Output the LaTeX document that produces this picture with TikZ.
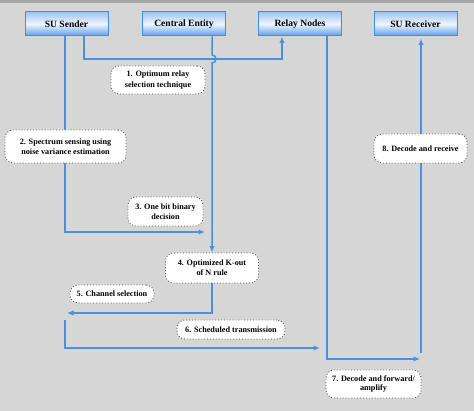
\documentclass[tikz,border=0pt]{standalone}
\usepackage{fontspec}
\setmainfont{Liberation Serif}
\usetikzlibrary{arrows.meta,calc}
\pgfdeclarelayer{bg}
\pgfdeclarelayer{lines}
\pgfsetlayers{bg,lines,main}
\definecolor{bgc}{RGB}{214,214,214}
\definecolor{topstrip}{RGB}{165,165,165}
\definecolor{linec}{RGB}{74,144,226}
\definecolor{boxborder}{RGB}{61,142,235}
\definecolor{boxtop}{RGB}{160,196,242}
\definecolor{boxmid}{RGB}{238,245,253}
\definecolor{boxbot}{RGB}{92,156,234}
\begin{document}
\begin{tikzpicture}[x=1pt,y=-1pt,
  entity/.style={draw=boxborder,line width=1pt,top color=boxtop,bottom color=boxbot,middle color=boxmid,
    minimum width=83pt,minimum height=24pt,inner sep=0pt,font=\fontsize{9.6}{11}\selectfont\bfseries},
  note/.style={draw=black!65,dotted,line width=0.9pt,fill=white,rounded corners=8pt,align=center,
    inner sep=0pt,font=\fontsize{8.2}{9.6}\selectfont\bfseries},
  flow/.style={draw=linec,line width=1.5pt},
  arr/.style={flow,-{Latex[length=6.5pt,width=5.5pt]}}]
\begin{pgfonlayer}{bg}
  \fill[bgc] (0,0) rectangle (474,411);
  \fill[topstrip] (0,0) rectangle (474,3);
\end{pgfonlayer}
\useasboundingbox (0,0) rectangle (474,411);

% entities
\node[entity] (sender) at (66.5,24) {SU Sender};
\node[entity] (central) at (184,24) {Central Entity};
\node[entity] (relay) at (300,24) {Relay Nodes};
\node[entity] (receiver) at (415.5,24) {SU Receiver};

% notes
\node[note,minimum width=94pt,minimum height=28pt] (n1) at (158,80) {1. Optimum relay\\[1.5pt]selection technique};
\node[note,minimum width=121pt,minimum height=33pt] (n2) at (65.5,146.5) {2. Spectrum sensing using\\noise variance estimation};
\node[note,minimum width=75pt,minimum height=29pt] (n3) at (165.5,211.5) {3. One bit binary\\decision};
\node[note,minimum width=93pt,minimum height=30pt] (n4) at (212,268) {4. Optimized K-out\\of N rule};
\node[note,minimum width=84pt,minimum height=18pt] (n5) at (112,294) {5. Channel selection};
\node[note,minimum width=108pt,minimum height=19pt] (n6) at (231,329.5) {6. Scheduled transmission};
\node[note,minimum width=95pt,minimum height=28pt] (n7) at (373.5,384) {7. Decode and forward/\\amplify};
\node[note,minimum width=93pt,minimum height=29pt] (n8) at (420.5,148.5) {8. Decode and receive};

% free ends
\coordinate (a1) at (65,232);
\coordinate (a2) at (205,232);
\coordinate (b1) at (84,59);
\coordinate (b2) at (282,59);
\coordinate (c1) at (212,55);
\coordinate (d1) at (212,313);
\coordinate (d2) at (67,313);
\coordinate (e0) at (65,320);
\coordinate (e1) at (65,348);
\coordinate (e2) at (320,348);
\coordinate (f1) at (327,359);
\coordinate (f2) at (420,359);
\coordinate (g0) at (421,353);

\begin{pgfonlayer}{lines}
  \draw[arr] ($(sender.south)+(-1.5,0)$) -- (a1) -- (a2);
  \draw[arr] ($(sender.south)+(17.5,0)$) -- (b1) -- (b2) -- ($(relay.south)+(-18,0)$);
  \draw[arr] ($(central.south)+(28,0)$) -- (c1) arc[start angle=-90,end angle=90,radius=4] -- (n4.north);
  \draw[arr] (n4.south) -- (d1) -- (d2);
  \draw[arr] (e0) -- (e1) -- (e2);
  \draw[arr] ($(relay.south)+(27,0)$) -- (f1) -- (f2);
  \draw[arr] (g0) -- ($(receiver.south)+(5.5,2)$);
\end{pgfonlayer}
\end{tikzpicture}
\end{document}
